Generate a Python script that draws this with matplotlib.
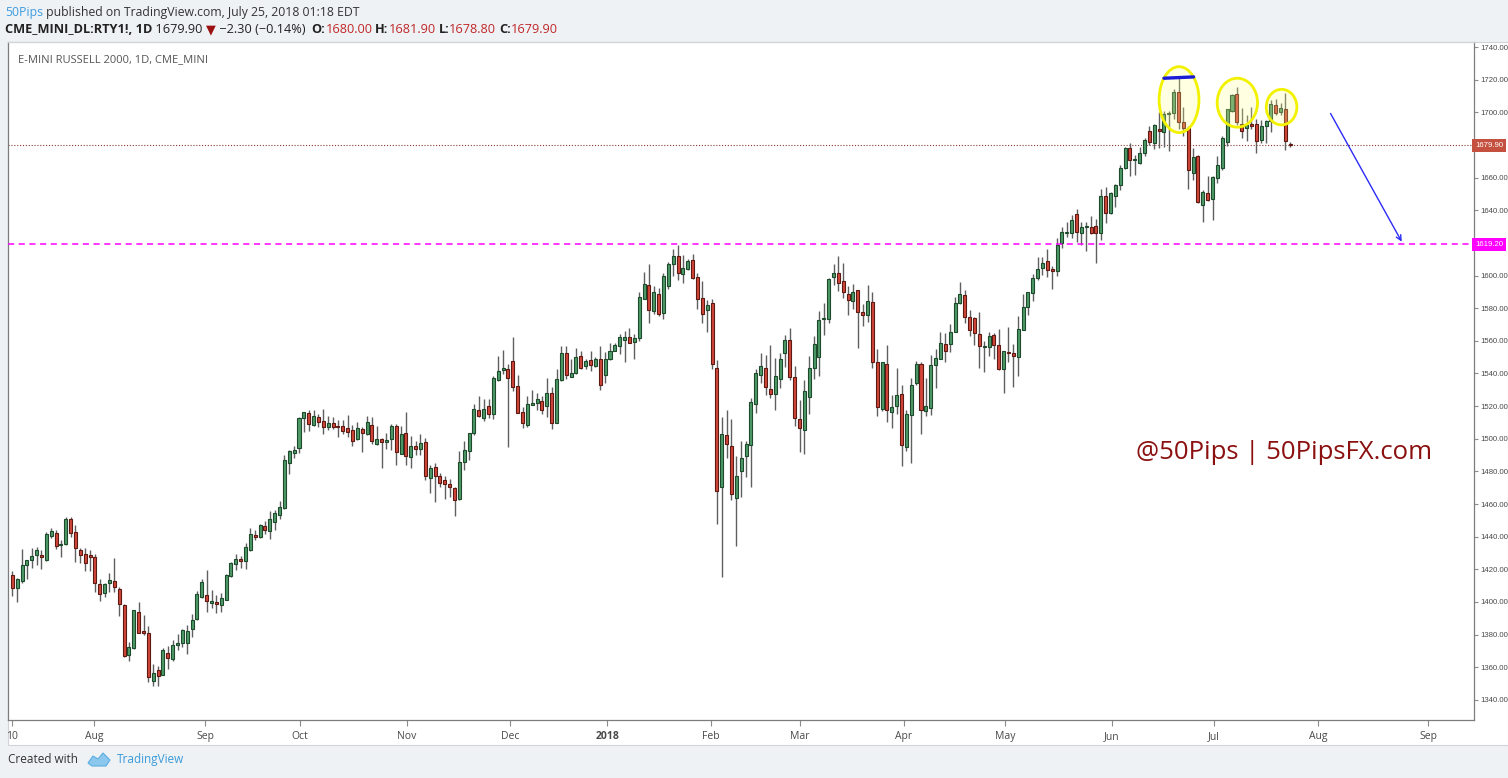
import numpy as np
import matplotlib
matplotlib.use("Agg")
import matplotlib.pyplot as plt
from matplotlib.patches import Ellipse, Rectangle, Polygon
from matplotlib.transforms import blended_transform_factory

plt.rcParams['font.family'] = ['Open Sans', 'DejaVu Sans']

# daily bars RTY1! (Jul 10 2017 .. Jul 24 2018)
opens = [1416.4, 1408.4, 1413.1, 1422.5, 1425.5, 1428.6, 1428.6, 1426.0, 1440.2, 1442.1,
         1434.7, 1435.3, 1450.7, 1442.7, 1431.7, 1429.2, 1428.6, 1427.4, 1410.8, 1405.3,
         1411.5, 1412.7, 1407.8, 1398.0, 1367.3, 1371.6, 1393.7, 1382.0, 1380.8, 1351.8,
         1358.2, 1355.1, 1368.6, 1365.3, 1373.9, 1375.1, 1374.7, 1383.3, 1389.4, 1402.9,
         1404.1, 1399.6, 1399.8, 1398.0, 1401.0, 1415.7, 1423.1, 1426.2, 1424.9, 1431.9,
         1441.1, 1440.1, 1446.6, 1443.7, 1449.2, 1453.3, 1457.4, 1485.4, 1491.5, 1494.6,
         1512.5, 1515.6, 1508.3, 1513.2, 1510.7, 1507.0, 1509.5, 1507.8, 1507.6, 1506.4,
         1505.2, 1499.7, 1505.8, 1503.1, 1508.3, 1496.6, 1499.7, 1497.8, 1499.7, 1507.8,
         1490.5, 1503.4, 1488.7, 1495.4, 1493.6, 1497.8, 1475.8, 1482.5, 1477.0, 1474.6,
         1472.1, 1469.7, 1463.3, 1485.6, 1492.3, 1503.4, 1517.4, 1512.5, 1520.1, 1515.0,
         1535.8, 1542.0, 1542.6, 1547.5, 1532.2, 1516.2, 1508.3, 1520.7, 1521.7, 1523.0,
         1519.9, 1527.9, 1509.5, 1536.0, 1552.4, 1538.1, 1540.1, 1550.5, 1544.4, 1548.1,
         1544.4, 1548.7, 1538.9, 1548.7, 1554.0, 1557.0, 1560.7, 1562.1, 1559.1, 1561.5,
         1585.8, 1594.0, 1578.1, 1588.5, 1576.8, 1593.4, 1606.9, 1611.8, 1600.7, 1603.8,
         1609.3, 1598.9, 1586.0, 1578.7, 1583.0, 1543.2, 1470.3, 1502.1, 1495.4, 1463.5,
         1480.1, 1489.3, 1496.0, 1521.1, 1538.9, 1543.2, 1530.3, 1527.3, 1536.4, 1552.4,
         1560.3, 1537.7, 1512.0, 1505.2, 1525.4, 1543.2, 1549.9, 1573.6, 1573.2, 1598.9,
         1601.4, 1596.5, 1588.5, 1584.2, 1590.9, 1577.4, 1575.6, 1583.6, 1546.8, 1518.0,
         1545.6, 1516.2, 1519.9, 1527.2, 1494.7, 1514.3, 1533.9, 1545.6, 1516.8, 1518.6,
         1545.0, 1548.6, 1557.8, 1557.8, 1565.2, 1583.0, 1587.9, 1574.4, 1573.8, 1564.0,
         1556.0, 1556.0, 1563.3, 1557.2, 1542.5, 1552.9, 1552.3, 1549.9, 1566.4, 1580.5,
         1589.1, 1598.3, 1604.4, 1608.7, 1603.8, 1602.6, 1619.7, 1626.2, 1626.0, 1638.0,
         1625.8, 1629.6, 1629.6, 1630.4, 1625.9, 1648.6, 1638.2, 1648.6, 1655.3, 1665.7,
         1678.0, 1671.0, 1668.8, 1674.9, 1688.4, 1681.1, 1689.6, 1687.8, 1698.8, 1699.4,
         1712.3, 1693.9, 1690.2, 1662.7, 1673.1, 1643.1, 1650.4, 1646.7, 1659.6, 1665.7,
         1681.7, 1700.6, 1711.1, 1692.7, 1690.2, 1692.7, 1692.7, 1682.9, 1691.5, 1694.5,
         1704.3, 1700.0, 1701.9, 1680.0]
highs = [1419.0, 1415.0, 1432.3, 1426.0, 1432.9, 1433.9, 1431.7, 1442.7, 1445.1, 1443.9,
         1437.8, 1451.9, 1451.9, 1447.2, 1432.9, 1432.9, 1431.7, 1429.2, 1413.9, 1411.5,
         1417.6, 1426.8, 1409.0, 1398.6, 1375.5, 1395.0, 1400.0, 1391.9, 1385.1, 1361.8,
         1360.6, 1371.6, 1373.1, 1376.7, 1380.2, 1383.5, 1385.7, 1392.5, 1406.6, 1413.9,
         1419.4, 1407.2, 1404.1, 1405.3, 1417.2, 1424.5, 1429.4, 1428.2, 1436.0, 1445.6,
         1444.1, 1447.6, 1449.7, 1455.8, 1456.4, 1461.9, 1490.1, 1493.0, 1495.6, 1513.2,
         1516.5, 1517.7, 1517.7, 1515.2, 1518.3, 1514.0, 1513.2, 1511.5, 1511.5, 1514.6,
         1508.5, 1510.3, 1507.2, 1514.0, 1513.2, 1507.8, 1500.3, 1503.4, 1509.1, 1509.1,
         1507.8, 1516.4, 1501.5, 1498.5, 1502.9, 1500.3, 1483.8, 1485.0, 1478.9, 1477.0,
         1475.2, 1470.3, 1492.3, 1498.5, 1503.8, 1521.1, 1526.2, 1524.2, 1524.2, 1538.5,
         1550.7, 1554.4, 1545.8, 1562.4, 1538.9, 1519.3, 1526.0, 1529.7, 1527.9, 1526.0,
         1537.1, 1531.6, 1542.6, 1556.7, 1556.7, 1548.7, 1555.4, 1553.6, 1548.7, 1553.6,
         1549.9, 1556.7, 1553.0, 1558.5, 1558.5, 1564.2, 1565.8, 1567.9, 1564.2, 1589.9,
         1602.2, 1607.3, 1593.4, 1592.2, 1601.6, 1608.5, 1616.1, 1618.5, 1612.4, 1609.9,
         1613.0, 1601.4, 1596.5, 1584.8, 1585.4, 1548.1, 1513.1, 1517.4, 1512.0, 1489.5,
         1498.5, 1498.5, 1524.8, 1542.6, 1552.4, 1551.1, 1557.3, 1549.3, 1552.4, 1563.4,
         1567.7, 1544.4, 1523.6, 1535.8, 1550.5, 1562.8, 1578.1, 1583.0, 1598.3, 1606.9,
         1612.0, 1607.5, 1593.4, 1594.6, 1591.0, 1582.3, 1594.0, 1589.7, 1554.8, 1547.2,
         1557.2, 1526.6, 1543.1, 1532.7, 1517.4, 1537.0, 1547.4, 1546.8, 1537.0, 1551.1,
         1554.8, 1565.2, 1564.6, 1570.1, 1586.6, 1595.8, 1590.9, 1578.7, 1574.4, 1577.4,
         1559.7, 1565.2, 1564.6, 1567.0, 1553.8, 1568.2, 1557.8, 1575.0, 1588.5, 1590.1,
         1600.7, 1611.1, 1611.1, 1616.0, 1605.6, 1622.8, 1629.5, 1633.0, 1637.0, 1641.0,
         1633.0, 1633.1, 1636.7, 1634.5, 1652.9, 1654.1, 1651.0, 1655.9, 1667.6, 1678.6,
         1681.1, 1673.7, 1678.6, 1684.1, 1691.5, 1692.7, 1700.0, 1700.6, 1700.6, 1714.1,
         1720.9, 1703.1, 1691.5, 1678.0, 1673.7, 1652.3, 1660.8, 1660.8, 1673.1, 1685.3,
         1702.3, 1711.1, 1715.4, 1702.5, 1698.2, 1703.1, 1695.8, 1695.1, 1695.1, 1707.4,
         1708.0, 1705.6, 1711.7, 1681.9]
lows = [1403.9, 1400.2, 1411.9, 1413.9, 1421.0, 1422.5, 1420.4, 1425.3, 1439.0, 1432.7,
        1427.8, 1435.0, 1440.0, 1424.7, 1424.1, 1419.2, 1419.2, 1406.3, 1400.8, 1403.3,
        1406.3, 1405.9, 1391.6, 1366.5, 1364.1, 1371.0, 1380.8, 1380.0, 1351.2, 1348.8,
        1348.8, 1355.0, 1359.2, 1364.1, 1370.4, 1372.7, 1368.4, 1378.8, 1389.0, 1402.3,
        1393.7, 1396.1, 1393.5, 1393.7, 1401.0, 1415.3, 1419.6, 1420.8, 1420.2, 1431.3,
        1438.0, 1439.4, 1441.7, 1438.6, 1444.3, 1450.9, 1457.0, 1478.4, 1488.2, 1491.5,
        1504.2, 1504.8, 1507.9, 1507.0, 1502.9, 1505.4, 1506.0, 1501.3, 1502.9, 1501.3,
        1495.8, 1499.5, 1492.1, 1502.5, 1496.6, 1496.0, 1482.3, 1493.6, 1492.9, 1483.8,
        1490.5, 1483.8, 1482.3, 1489.9, 1489.9, 1474.6, 1467.0, 1461.5, 1470.7, 1463.3,
        1464.6, 1452.9, 1462.7, 1480.7, 1486.8, 1502.1, 1513.4, 1510.7, 1512.5, 1512.0,
        1535.2, 1539.5, 1495.2, 1529.1, 1515.6, 1506.8, 1507.5, 1520.5, 1517.5, 1515.4,
        1513.2, 1505.8, 1509.5, 1535.4, 1536.5, 1537.7, 1539.5, 1543.0, 1543.0, 1541.4,
        1543.8, 1529.7, 1534.0, 1548.3, 1553.6, 1552.1, 1547.2, 1558.7, 1548.7, 1559.7,
        1585.4, 1571.1, 1576.2, 1575.0, 1573.2, 1591.5, 1599.7, 1597.1, 1595.2, 1603.2,
        1597.7, 1579.7, 1571.1, 1565.6, 1542.5, 1447.6, 1415.1, 1488.0, 1462.3, 1434.1,
        1464.2, 1476.4, 1470.3, 1515.6, 1534.0, 1526.6, 1524.8, 1517.5, 1530.9, 1543.8,
        1535.8, 1508.1, 1492.1, 1490.5, 1515.0, 1536.4, 1538.3, 1563.4, 1570.7, 1594.0,
        1590.4, 1586.1, 1575.7, 1579.3, 1555.4, 1568.9, 1571.3, 1543.1, 1513.7, 1516.8,
        1510.1, 1506.4, 1515.0, 1483.1, 1492.3, 1484.9, 1532.7, 1502.7, 1513.7, 1514.3,
        1530.9, 1548.6, 1546.8, 1552.9, 1565.2, 1582.8, 1570.7, 1562.7, 1557.2, 1543.1,
        1540.7, 1550.5, 1548.6, 1541.9, 1527.8, 1546.8, 1531.5, 1538.2, 1566.4, 1575.6,
        1584.2, 1597.0, 1600.1, 1598.9, 1591.5, 1599.5, 1616.6, 1623.8, 1623.0, 1620.3,
        1618.7, 1615.3, 1625.7, 1607.5, 1621.6, 1632.0, 1637.6, 1641.8, 1652.3, 1665.1,
        1660.8, 1661.4, 1668.2, 1673.1, 1679.8, 1677.4, 1678.0, 1678.6, 1676.1, 1695.8,
        1689.6, 1685.3, 1652.9, 1658.4, 1644.3, 1632.7, 1645.9, 1633.9, 1656.5, 1664.5,
        1679.2, 1700.0, 1692.1, 1684.1, 1682.3, 1689.6, 1674.9, 1681.1, 1681.1, 1687.8,
        1698.2, 1698.2, 1676.8, 1678.8]
closes = [1408.4, 1413.9, 1422.5, 1425.5, 1428.0, 1431.7, 1427.4, 1441.5, 1443.3, 1434.1,
          1435.5, 1450.7, 1442.1, 1432.9, 1428.6, 1423.7, 1427.4, 1411.5, 1404.7, 1410.8,
          1413.3, 1409.4, 1398.6, 1366.7, 1372.4, 1394.9, 1381.2, 1380.8, 1353.9, 1356.3,
          1354.9, 1370.4, 1365.5, 1373.5, 1374.7, 1382.9, 1382.0, 1388.8, 1404.7, 1412.1,
          1400.4, 1400.4, 1398.6, 1402.3, 1416.6, 1423.9, 1426.2, 1425.1, 1433.5, 1441.7,
          1440.1, 1447.2, 1444.3, 1450.9, 1454.6, 1458.2, 1487.0, 1492.5, 1493.1, 1512.5,
          1516.2, 1509.1, 1513.8, 1510.3, 1507.4, 1509.5, 1507.4, 1507.4, 1504.8, 1504.2,
          1498.9, 1506.4, 1503.8, 1510.1, 1498.5, 1499.7, 1497.8, 1499.1, 1507.6, 1491.7,
          1502.7, 1489.3, 1495.4, 1493.6, 1497.2, 1477.0, 1481.9, 1477.0, 1472.7, 1472.1,
          1470.3, 1462.3, 1485.6, 1492.9, 1503.4, 1518.1, 1513.8, 1518.1, 1515.0, 1537.1,
          1541.4, 1543.2, 1537.1, 1531.6, 1516.0, 1509.5, 1521.1, 1521.7, 1524.2, 1517.5,
          1527.9, 1509.5, 1536.5, 1552.4, 1538.9, 1540.1, 1549.9, 1543.6, 1547.5, 1545.0,
          1548.7, 1532.8, 1548.7, 1553.6, 1557.2, 1562.1, 1562.1, 1558.9, 1561.5, 1586.7,
          1594.6, 1578.7, 1589.7, 1576.2, 1599.5, 1606.9, 1611.8, 1601.4, 1604.4, 1608.7,
          1598.3, 1585.4, 1576.2, 1581.7, 1545.6, 1467.8, 1502.7, 1496.6, 1466.0, 1477.0,
          1488.0, 1496.6, 1522.4, 1540.1, 1544.4, 1531.5, 1527.3, 1538.3, 1548.7, 1560.3,
          1537.7, 1512.6, 1506.4, 1529.1, 1543.2, 1557.9, 1572.6, 1574.0, 1597.7, 1601.4,
          1595.2, 1589.7, 1584.8, 1589.7, 1577.4, 1575.6, 1584.2, 1546.8, 1519.2, 1546.8,
          1517.4, 1519.2, 1526.6, 1496.0, 1515.0, 1532.7, 1545.6, 1517.4, 1519.9, 1545.0,
          1549.3, 1558.4, 1553.5, 1565.2, 1583.0, 1588.5, 1574.4, 1566.4, 1564.6, 1556.6,
          1556.6, 1562.7, 1557.2, 1542.5, 1553.5, 1552.3, 1550.5, 1567.0, 1580.5, 1589.7,
          1598.3, 1603.8, 1607.5, 1603.2, 1602.6, 1618.5, 1626.4, 1626.6, 1634.0, 1626.4,
          1629.5, 1630.4, 1625.9, 1625.9, 1648.6, 1638.2, 1650.4, 1655.3, 1665.7, 1678.0,
          1670.6, 1671.5, 1674.9, 1682.9, 1681.7, 1692.1, 1688.4, 1698.8, 1699.4, 1712.3,
          1693.9, 1690.2, 1664.5, 1672.5, 1644.9, 1651.0, 1646.1, 1660.2, 1667.6, 1684.1,
          1701.9, 1710.5, 1693.9, 1688.4, 1692.1, 1691.9, 1682.3, 1691.5, 1694.5, 1704.9,
          1699.4, 1702.5, 1682.3, 1679.9]

month_labels = ['10', 'Aug', 'Sep', 'Oct', 'Nov', 'Dec', '2018', 'Feb', 'Mar', 'Apr',
                'May', 'Jun', 'Jul', 'Aug', 'Sep']
month_pos = [0, 16.8, 39.7, 59.2, 81.2, 102.4, 122.4, 143.8, 162.1, 183.5,
             204.3, 226.3, 247.3, 268.7, 291.4]

last_price = 1679.90
support = 1619.20

W, H = 1508, 778
fig = plt.figure(figsize=(W / 100, H / 100), dpi=100, facecolor='#eff2f5')

# white chart panel (plot + price/time scales)
panel = Rectangle((8 / W, 1 - 745 / H), 1500 / W, 703 / H,
                  transform=fig.transFigure, facecolor='white',
                  edgecolor='#d0d4d8', lw=0.8, zorder=-10)
fig.patches.append(panel)

ax = fig.add_axes([8 / W, 1 - 720 / H, 1466 / W, 678 / H])
ax.set_zorder(1)
ax.set_facecolor('white')

o = np.array(opens); h = np.array(highs); l = np.array(lows); c = np.array(closes)
x = np.arange(len(o))
up = c >= o
face = np.where(up, '#4e9a69', '#d2463a')
edge = np.where(up, '#1e4a2c', '#5c1a12')

ax.vlines(x, l, h, color='#5f5f5f', lw=1.0, zorder=2)
ax.bar(x, np.maximum(np.abs(c - o), 0.5), bottom=np.minimum(o, c), width=0.62,
       color=face, edgecolor=edge, linewidth=0.8, zorder=3)

ax.set_xlim(-0.885, 300.8)
ax.set_ylim(1327.7, 1743.1)

# horizontal lines
ax.axhline(support, color='#ff00ff', ls=(0, (4, 3)), lw=1.1, zorder=4)
ax.axhline(last_price, color='#8a3a30', ls=(0, (1, 1.6)), lw=0.8, zorder=1)

# price scale on the right (labels hidden behind the price boxes are left out)
scale_font = ['Liberation Sans', 'DejaVu Sans']
ax.yaxis.tick_right()
ticks = np.arange(1340, 1741, 20)
ax.set_yticks(ticks)
ax.set_yticklabels(['' if t in (1620, 1680) else '%.2f' % t for t in ticks],
                   family=scale_font)
ax.tick_params(axis='y', length=3, width=0.8, color='#8c8c8c', labelsize=5.6,
               labelcolor='#4a4a4a', pad=1.5)
ax.set_xticks(month_pos)
ax.set_xticklabels(month_labels)
ax.tick_params(axis='x', length=4, width=0.8, color='#8c8c8c', labelsize=7.5,
               labelcolor='#4a4a4a', pad=4)
for lbl in ax.get_xticklabels():
    if lbl.get_text() == '2018':
        lbl.set_fontweight('bold')
for s in ax.spines.values():
    s.set_color('#7d7d7d')
    s.set_linewidth(0.9)
ax.spines['top'].set_color('#d0d4d8')

bt = blended_transform_factory(ax.transAxes, ax.transData)
for val, col in [(last_price, '#c4503f'), (support, '#ff00ff')]:
    ax.text(1.0008, val, '%.2f' % val, transform=bt, fontsize=5.6, color='white',
            family=scale_font, va='center', ha='left', zorder=6,
            bbox=dict(boxstyle='square,pad=0.4', fc=col, ec='none'))

# annotations drawn on the chart
ell_x = [240.1, 252.1, 261.2]
ell_y = [1707.8, 1705.9, 1703.2]
ell_w = [8.2, 8.3, 6.3]
ell_h = [40.4, 30.0, 21.8]
for ex, ey, ew, eh in zip(ell_x, ell_y, ell_w, ell_h):
    ax.add_patch(Ellipse((ex, ey), ew, eh, facecolor=(1, 1, 0.55, 0.25),
                         edgecolor='#f2f200', lw=2.0, zorder=5))
ax.plot([237.0, 243.1], [1720.9, 1721.7], color='#1a1ad8', lw=2.4, zorder=6,
        solid_capstyle='round')
ax.annotate('', xy=(286.2, 1619.3), xytext=(271.0, 1700.8),
            arrowprops=dict(arrowstyle='->', color='#2b2bf5', lw=1.0,
                            mutation_scale=9), zorder=6)

ax.text(0.7695, 0.395, '@50Pips | 50PipsFX.com', transform=ax.transAxes,
        fontsize=18.5, color='#8b1010', ha='left', va='center')
ax.text(10 / 1466, 1 - 18 / 678, 'E-MINI RUSSELL 2000, 1D, CME_MINI',
        transform=ax.transAxes, fontsize=8, color='#555555', ha='left', va='center')

# header
def chain(prev, s, color='#222222', weight='normal', gap=0, size=9.2):
    return fig.add_artist(matplotlib.text.Annotation(
        s, xy=(1, 0), xycoords=prev, xytext=(gap, 0), textcoords='offset points',
        fontsize=size, color=color, fontweight=weight, va='bottom', ha='left'))

t = fig.text(5 / W, 1 - 19 / H, '50Pips', fontsize=8.8, color='#3d9be0',
             va='bottom', ha='left')
chain(t, ' published on TradingView.com, July 25, 2018 01:18 EDT', '#333333', size=8.8)

t = fig.text(5 / W, 1 - 36 / H, 'CME_MINI_DL:RTY1!, 1D', fontsize=9.2,
             color='#222222', fontweight='bold', va='bottom', ha='left')
t = chain(t, ' 1679.90 ')
t = chain(t, '\u25bc', '#9b1010')
t = chain(t, ' \u22122.30 (\u22120.14%) ')
for k, v in [('O:', '1680.00'), ('H:', '1681.90'), ('L:', '1678.80'), ('C:', '1679.90')]:
    t = chain(t, k, '#222222', 'bold', gap=2)
    t = chain(t, v, '#c0282a')

# footer
fig.text(8 / W, 1 - 766 / H, 'Created with', fontsize=8.5, color='#333333',
         va='bottom', ha='left')
logo = [(88, 763), (93, 756), (98, 759), (103, 753), (110, 760), (106, 766), (92, 766)]
fig.patches.append(Polygon([(px / W, 1 - py / H) for px, py in logo], closed=True,
                           transform=fig.transFigure, facecolor='#8cc8ee',
                           edgecolor='#5aaee3', lw=0.8))
fig.text(117 / W, 1 - 766 / H, 'TradingView', fontsize=8.5, color='#3a9ad9',
         va='bottom', ha='left')

fig.savefig('out.png', dpi=100, facecolor=fig.get_facecolor())
